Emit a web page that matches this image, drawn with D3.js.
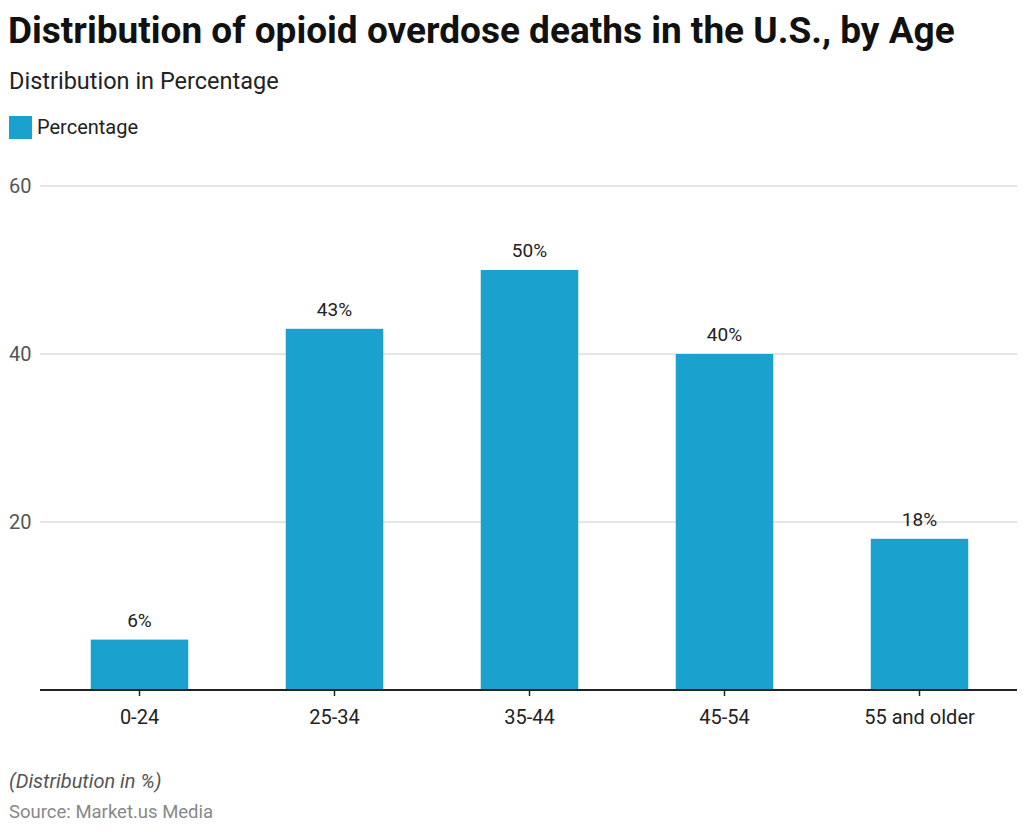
<!DOCTYPE html>
<html>
<head>
<meta charset="utf-8">
<script src="https://cdn.jsdelivr.net/npm/d3@7"></script>
<style>
  body { margin: 0; background: #fff; font-family: Roboto, sans-serif; }
</style>
</head>
<body>
<div id="chart"></div>
<script>
var categories = ["0-24", "25-34", "35-44", "45-54", "55 and older"];
var percentages = [6, 43, 50, 40, 18];
var yTicks = [20, 40, 60];

var WIDTH = 1024, HEIGHT = 832;
var plotLeft = 40, plotRight = 1017, plotTop = 186, plotBottom = 690;
var barColor = "#1aa1cd";

var svg = d3.select("#chart").append("svg")
    .attr("width", WIDTH)
    .attr("height", HEIGHT);

// titles
svg.append("text")
    .attr("x", 8).attr("y", 43)
    .attr("font-size", 37).attr("font-weight", "bold")
    .attr("fill", "#111")
    .text("Distribution of opioid overdose deaths in the U.S., by Age");

svg.append("text")
    .attr("x", 9).attr("y", 89)
    .attr("font-size", 23.5).attr("fill", "#222")
    .text("Distribution in Percentage");

// legend
svg.append("rect")
    .attr("x", 9).attr("y", 116).attr("width", 23).attr("height", 23)
    .attr("fill", barColor);
svg.append("text")
    .attr("x", 37).attr("y", 134)
    .attr("font-size", 20).attr("fill", "#222")
    .text("Percentage");

var x = d3.scaleBand().domain(categories).range([plotLeft + 2, plotRight])
    .paddingInner(0.5).paddingOuter(0.25);
var y = d3.scaleLinear().domain([0, 60]).range([plotBottom, plotTop]);

// grid
svg.append("g").selectAll("line")
    .data(yTicks).enter().append("line")
    .attr("x1", plotLeft).attr("x2", plotRight)
    .attr("y1", function (d) { return y(d); })
    .attr("y2", function (d) { return y(d); })
    .attr("stroke", "#ccc").attr("stroke-width", 1);

svg.append("g").selectAll("text")
    .data(yTicks).enter().append("text")
    .attr("x", 9)
    .attr("y", function (d) { return y(d); })
    .attr("dy", "0.35em")
    .attr("font-size", 20).attr("fill", "#555")
    .text(function (d) { return d; });

// bars
svg.append("g").selectAll("rect")
    .data(percentages).enter().append("rect")
    .attr("x", function (d, i) { return x(categories[i]); })
    .attr("y", function (d) { return y(d); })
    .attr("width", x.bandwidth())
    .attr("height", function (d) { return y(0) - y(d); })
    .attr("fill", barColor);

svg.append("g").selectAll("text")
    .data(percentages).enter().append("text")
    .attr("x", function (d, i) { return x(categories[i]) + x.bandwidth() / 2; })
    .attr("y", function (d) { return y(d) - 13; })
    .attr("text-anchor", "middle")
    .attr("font-size", 19).attr("fill", "#222")
    .text(function (d) { return d + "%"; });

// x axis
var xAxis = svg.append("g")
    .attr("transform", "translate(0," + plotBottom + ")")
    .call(d3.axisBottom(x).tickSize(6).tickSizeOuter(0));
xAxis.select(".domain").remove();
svg.append("line")
    .attr("x1", plotLeft).attr("x2", plotRight)
    .attr("y1", plotBottom).attr("y2", plotBottom)
    .attr("stroke", "#222").attr("stroke-width", 2);
xAxis.selectAll(".tick line").attr("stroke", "#222").attr("stroke-width", 1.5);
xAxis.selectAll(".tick text")
    .attr("font-family", "Roboto, sans-serif")
    .attr("font-size", 20).attr("fill", "#222")
    .attr("dy", "1.25em");

// footer
svg.append("text")
    .attr("x", 9).attr("y", 788)
    .attr("font-size", 20).attr("font-style", "italic").attr("fill", "#555")
    .text("(Distribution in %)");
svg.append("text")
    .attr("x", 9).attr("y", 818)
    .attr("font-size", 18.5).attr("fill", "#888")
    .text("Source: Market.us Media");
</script>
</body>
</html>
